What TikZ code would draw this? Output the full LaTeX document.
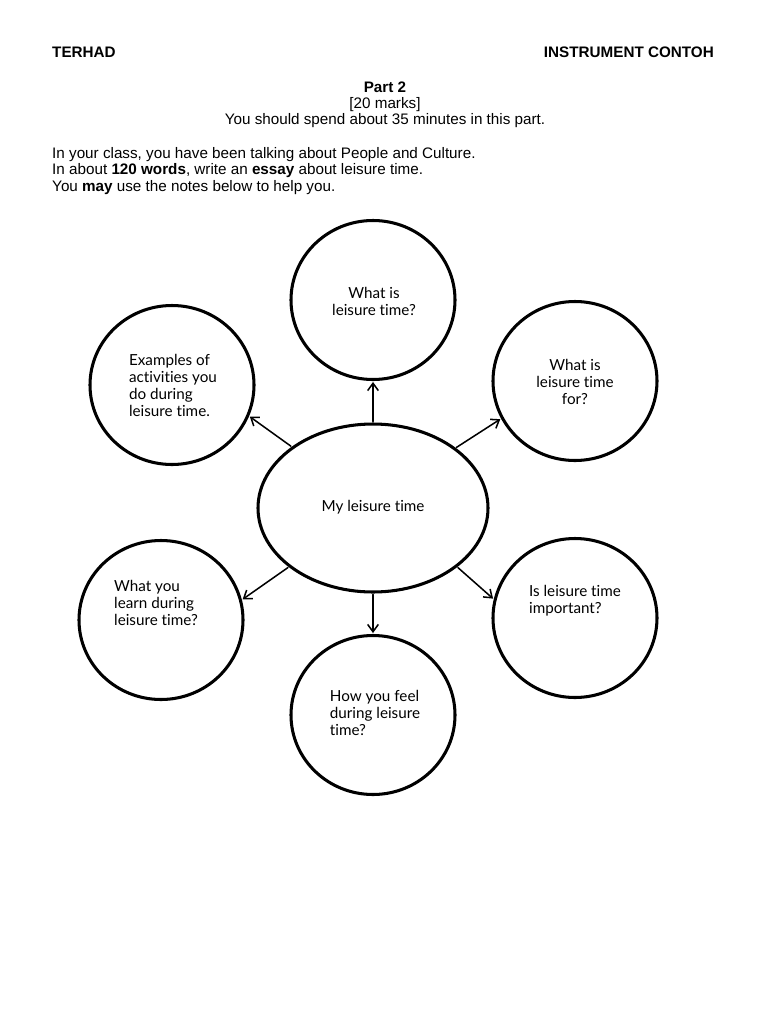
\documentclass[tikz,border=0pt]{standalone}
\usepackage{fontspec}
\setmainfont{Liberation Sans}
\newfontfamily\bubblefont[Ligatures=NoCommon]{Lato}
\usetikzlibrary{shapes.geometric,arrows.meta}
\begin{document}
\begin{tikzpicture}[x=0.3mm,y=-0.3mm,line join=round,line cap=round,>={Straight Barb[length=2.2mm,width=3.2mm]}]
	\tikzset{every node/.style={font=\fontsize{13}{14}\selectfont,inner sep=0pt},
		bold/.style={font=\fontsize{13}{14}\selectfont\bfseries},
		bubble/.style={draw,ellipse,line width=2.6pt,minimum width=49.2mm,minimum height=47.7mm,inner sep=0pt},
		note/.style={font=\bubblefont\fontsize{13}{14.5}\selectfont,align=left,inner sep=0pt},
		link/.style={->,line width=1.3pt,shorten >=0.8pt,shorten <=0.8pt}}
	\useasboundingbox (0,0) rectangle (768,1024);
	% heading
	\node[anchor=base west,bold] (terhad) at (52,57) {TERHAD};
	\node[anchor=base east,bold] (contoh) at (714,57) {INSTRUMENT CONTOH};
	\node[anchor=base,bold] (part) at (385,92) {Part 2};
	\node[anchor=base] (marks) at (385,108) {[20 marks]};
	\node[anchor=base] (spend) at (385,124) {You should spend about 35 minutes in this part.};
	\node[anchor=base west] (task1) at (52,158) {In your class, you have been talking about People and Culture.};
	\node[anchor=base west] (task2) at (52,174) {In about \textbf{120 words}, write an \textbf{essay} about leisure time.};
	\node[anchor=base west] (task3) at (52,191) {You \textbf{may} use the notes below to help you.};
	% mind map
	\node[bubble,minimum width=69mm,minimum height=50.4mm] (c) at (373,508) {};
	\node[bubble] (t) at (373,300) {};
	\node[bubble] (ul) at (172,385) {};
	\node[bubble] (ur) at (575,381) {};
	\node[bubble] (ll) at (161,620) {};
	\node[bubble] (lr) at (575,618) {};
	\node[bubble] (b) at (373,715) {};
	\node[note] (tc) at (373,507) {My leisure time};
	\node[note,align=center] (tt) at (374,301) {What is\\leisure time?};
	\node[note] (tul) at (173,385) {Examples of\\activities you\\do during\\leisure time.};
	\node[note,align=center] (tur) at (575,382) {What is\\leisure time\\for?};
	\node[note] (tll) at (156,603) {What you\\learn during\\leisure time?};
	\node[note] (tlr) at (575,601) {Is leisure time\\important?};
	\node[note] (tb) at (375,713) {How you feel\\during leisure\\time?};
	\draw[link] (c.90) -- (t.270);
	\draw[link] (c.143) -- (ul.338);
	\draw[link] (c.36) -- (ur.207);
	\draw[link] (c.215) -- (ll.14);
	\draw[link] (c.325) -- (lr.167);
	\draw[link] (c.270) -- (b.90);
\end{tikzpicture}
\end{document}
